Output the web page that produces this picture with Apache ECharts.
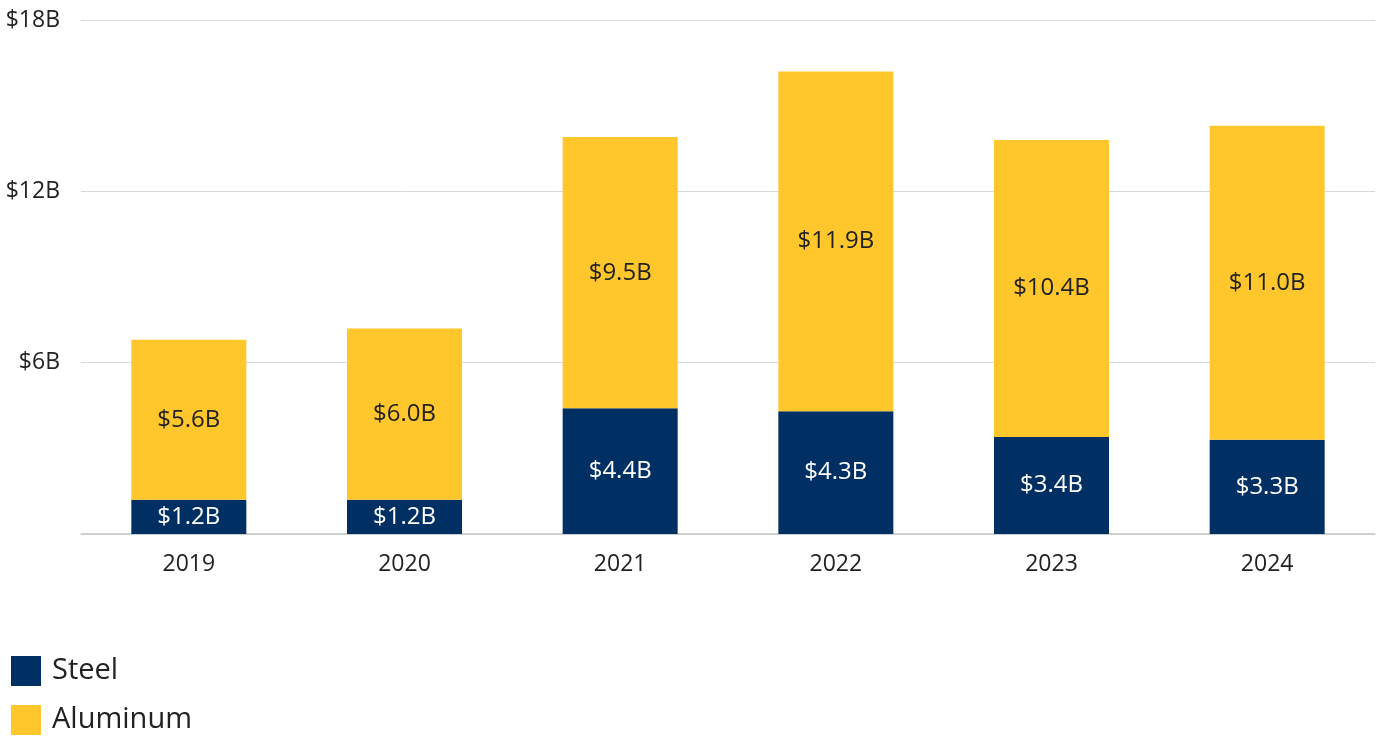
<!DOCTYPE html>
<html><head><meta charset="utf-8">
<script src="https://cdn.jsdelivr.net/npm/echarts@6/dist/echarts.min.js"></script>
<style>html,body{margin:0;padding:0;background:#fff}#c{width:1381px;height:749px}</style>
</head><body><div id="c"></div>
<script>
const categories = ['2019','2020','2021','2022','2023','2024'];
const steel = [1.2, 1.2, 4.4, 4.3, 3.4, 3.3];
const aluminum = [5.6, 6.0, 9.5, 11.9, 10.4, 11.0];
const yTicks = [0, 6, 12, 18];

const font = '"Open Sans", "Noto Sans", sans-serif';
const chart = echarts.init(document.getElementById('c'));
chart.setOption({
  animation: false,
  textStyle: { fontFamily: font },
  grid: { left: 81, right: 6, top: 20, bottom: 215, containLabel: false },
  legend: {
    orient: 'vertical', left: 6, top: 651, itemWidth: 30, itemHeight: 30, itemGap: 19,
    icon: 'rect',
    textStyle: { fontSize: 29, color: '#222', fontFamily: font, padding: [4,0,0,6] },
    data: ['Steel', 'Aluminum']
  },
  xAxis: {
    type: 'category', data: categories,
    axisLine: { lineStyle: { color: '#c8c8c8', width: 1.5 } },
    axisTick: { show: false },
    axisLabel: { fontSize: 23, color: '#222', margin: 19, fontFamily: font }
  },
  yAxis: {
    type: 'value', min: yTicks[0], max: yTicks[yTicks.length-1], interval: 6,
    axisLine: { show: false }, axisTick: { show: false },
    splitLine: { lineStyle: { color: '#d5d8dd', width: 1 } },
    axisLabel: { fontSize: 23, color: '#222', margin: 21, fontFamily: font,
      formatter: v => v === 0 ? '' : '$' + v + 'B' }
  },
  series: [
    { name: 'Steel', type: 'bar', stack: 't', data: steel, barWidth: 115,
      itemStyle: { color: '#003063' },
      label: { show: true, position: 'inside', fontSize: 24, color: '#fff', fontFamily: font,
        formatter: p => '$' + p.value.toFixed(1) + 'B' } },
    { name: 'Aluminum', type: 'bar', stack: 't', data: aluminum, barWidth: 115,
      itemStyle: { color: '#FFC72C' },
      label: { show: true, position: 'inside', fontSize: 24, color: '#222', fontFamily: font,
        formatter: p => '$' + p.value.toFixed(1) + 'B' } }
  ]
});
</script></body></html>
